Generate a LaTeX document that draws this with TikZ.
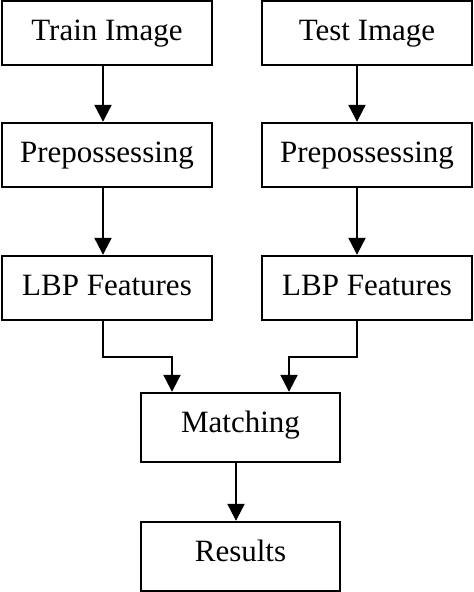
\documentclass[tikz,border=0pt]{standalone}
\usepackage{fontspec}
\setmainfont{Liberation Serif}
\usetikzlibrary{arrows.meta}
\begin{document}
\begin{tikzpicture}[x=1pt,y=-1pt,
  box/.style={draw=black, line width=2.4pt, fill=white, inner sep=0pt,
    minimum width=210pt, minimum height=64pt, font=\fontsize{31}{35}\selectfont,
    text height=21pt, text depth=7pt},
  tallbox/.style={box, minimum width=199pt, minimum height=69pt, text depth=12pt},
  arr/.style={line width=2.2pt, -{Triangle[width=17pt,length=17pt]}}]
\useasboundingbox[fill=white] (0,0) rectangle (474,592);
\node[box] (train) at (107,33) {Train Image};
\node[box] (test)  at (367,33) {Test Image};
\node[box] (prepL) at (107,155) {Prepossessing};
\node[box] (prepR) at (367,155) {Prepossessing};
\node[box] (lbpL)  at (107,288) {LBP Features};
\node[box] (lbpR)  at (367,288) {LBP Features};
\node[tallbox] (match) at (240.5,427.5) {Matching};
\node[tallbox] (res)   at (240.5,556.5) {Results};
\coordinate (cl) at (103,0);
\coordinate (cr) at (357,0);
\coordinate (ml) at (172,0);
\coordinate (mr) at (289,0);
\coordinate (mc) at (236,0);
\coordinate (jl) at (103,357);
\coordinate (jr) at (357,357);
\draw[arr] (train.south -| cl) -- (prepL.north -| cl);
\draw[arr] (test.south -| cr) -- (prepR.north -| cr);
\draw[arr] (prepL.south -| cl) -- (lbpL.north -| cl);
\draw[arr] (prepR.south -| cr) -- (lbpR.north -| cr);
\draw[arr] (lbpL.south -| cl) -- (jl) -- (jl -| ml) -- (match.north -| ml);
\draw[arr] (lbpR.south -| cr) -- (jr) -- (jr -| mr) -- (match.north -| mr);
\draw[arr] (match.south -| mc) -- (res.north -| mc);
\end{tikzpicture}
\end{document}
